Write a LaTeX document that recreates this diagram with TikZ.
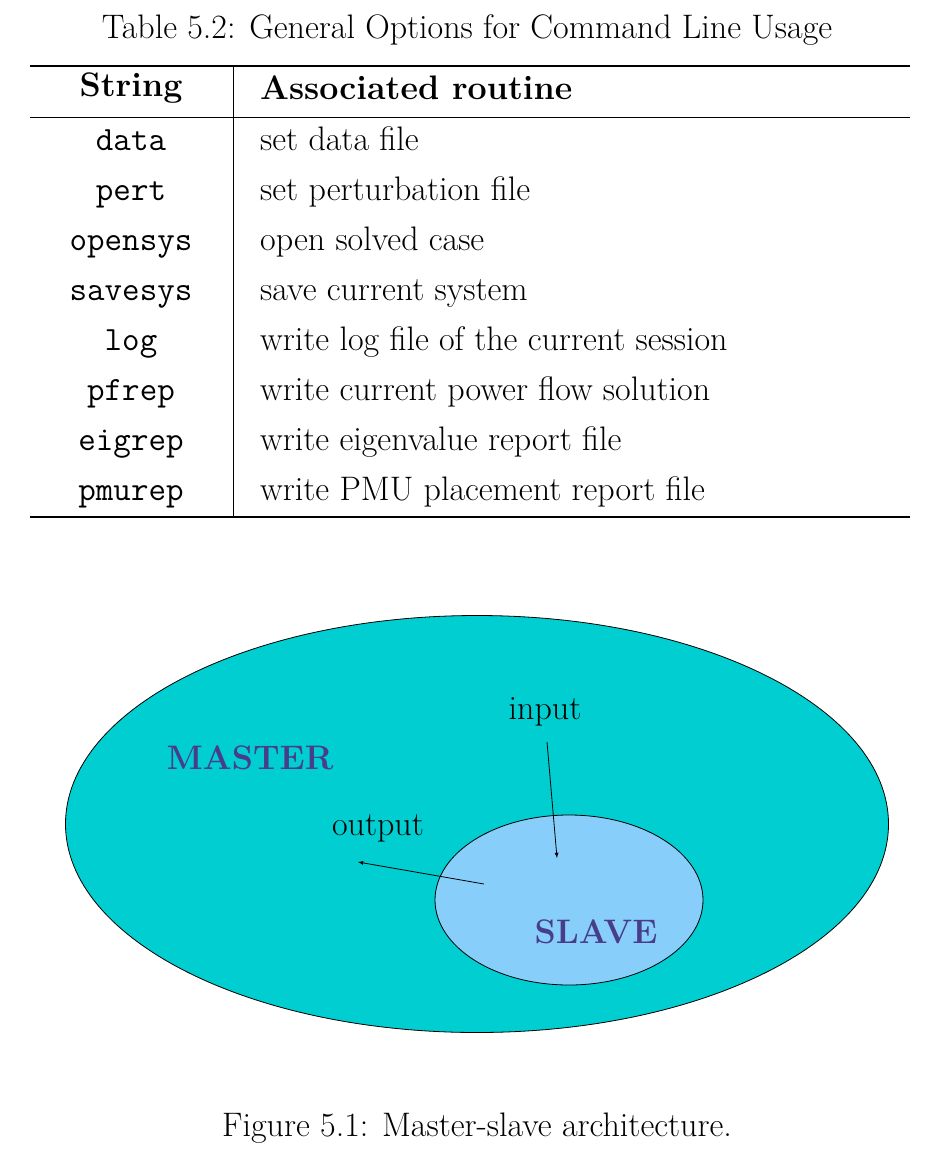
\documentclass[tikz,border=0pt]{standalone}
\usepackage{fontspec}
\usetikzlibrary{shapes.geometric}
\begin{document}
\begin{tikzpicture}[x=1pt,y=-1pt,
  txt/.style={font=\fontsize{34}{40}\selectfont,inner sep=0pt},
  tt/.style={font=\fontsize{34}{40}\selectfont\ttfamily,inner sep=0pt},
  lbl/.style={font=\fontsize{34}{40}\selectfont\bfseries,text=slab,inner sep=0pt},
  rule/.style={line width=1.2pt},
  arr/.style={-latex,line width=0.8pt}]
\definecolor{master}{RGB}{0,206,209}
\definecolor{slave}{RGB}{135,206,250}
\definecolor{slab}{RGB}{72,61,139}
\useasboundingbox (0,0) rectangle (933,1167);
% table
\node[txt] (title) at (467,30) {Table 5.2: General Options for Command Line Usage};
\coordinate (r1a) at (30,66); \coordinate (r1b) at (910,66);
\coordinate (r2a) at (30,117); \coordinate (r2b) at (910,117);
\coordinate (r3a) at (30,517); \coordinate (r3b) at (910,517);
\coordinate (va) at (233,66); \coordinate (vb) at (233,517);
\draw[rule] (r1a) -- (r1b);
\draw[line width=0.8pt] (r2a) -- (r2b);
\draw[rule] (r3a) -- (r3b);
\draw[line width=0.8pt] (va) -- (vb);
\node[txt,font=\fontsize{34}{40}\selectfont\bfseries] (h1) at (131,88) {String};
\node[txt,font=\fontsize{34}{40}\selectfont\bfseries,anchor=west] (h2) at (260,88) {Associated routine};
\foreach \i/\s/\r in {0/data/set data file,1/pert/set perturbation file,2/opensys/open solved case,3/savesys/save current system,4/log/write log file of the current session,5/pfrep/write current power flow solution,6/eigrep/write eigenvalue report file,7/pmurep/write PMU placement report file}{
  \node[tt,anchor=base] (s\i) at (131,150+50*\i) {\s};
  \node[txt,anchor=base west] (t\i) at (260,150+50*\i) {\r};
}
% figure
\node[draw,ellipse,fill=master,line width=0.8pt,minimum width=823,minimum height=417,inner sep=0pt] (master) at (477,824) {};
\node[draw,ellipse,fill=slave,line width=0.8pt,minimum width=268,minimum height=170,inner sep=0pt] (slave) at (569,900) {};
\node[lbl] (ml) at (250,758) {MASTER};
\node[lbl] (sl) at (596,932) {SLAVE};
\node[txt] (in) at (545,712) {input};
\node[txt] (out) at (378,828) {output};
\coordinate (ia) at (547,742); \coordinate (ib) at (557,858);
\coordinate (oa) at (484,884); \coordinate (ob) at (358,862);
\draw[arr] (ia) -- (ib);
\draw[arr] (oa) -- (ob);
\node[txt] (cap) at (477,1128) {Figure 5.1: Master-slave architecture.};
\end{tikzpicture}
\end{document}
